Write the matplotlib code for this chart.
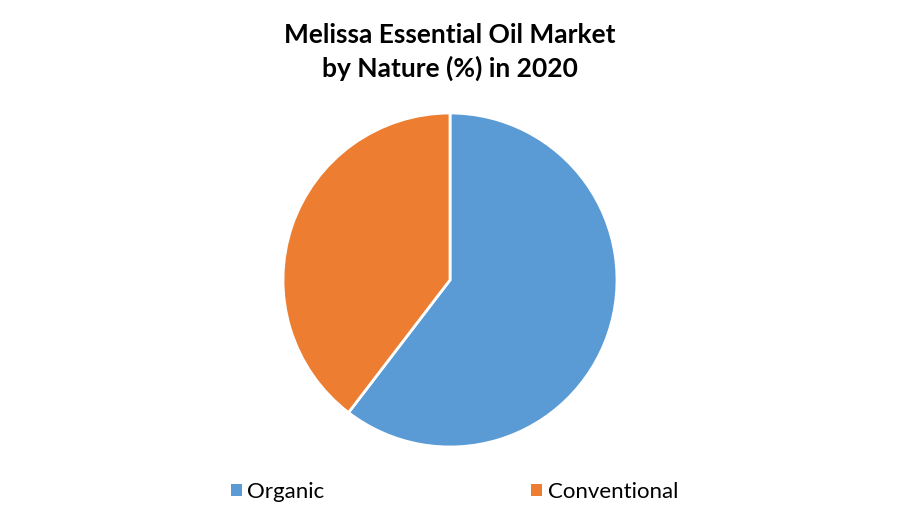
import matplotlib.pyplot as plt
from matplotlib.patches import Patch

plt.rcParams['font.family'] = ['Lato', 'DejaVu Sans']

# data
labels = ['Organic', 'Conventional']
shares = [60.4, 39.6]
colors = ['#5B9BD5', '#ED7D31']

fig = plt.figure(figsize=(9, 5.25), dpi=100)

# pie axes, centred around (450, 280) px with radius ~166 px
w = 334 / 900
h = 334 / 525
cx = 450 / 900
cy = (525 - 280) / 525
ax = fig.add_axes([cx - w / 2, cy - h / 2, w, h])
ax.pie(shares, colors=colors, startangle=90, counterclock=False,
       radius=1, wedgeprops=dict(edgecolor='white', linewidth=2))
ax.set_xlim(-1.0, 1.0)
ax.set_ylim(-1.0, 1.0)
ax.set_aspect('equal')

# title
fig.text(0.5, 1 - 52 / 525, 'Melissa Essential Oil Market\nby Nature (%) in 2020',
         ha='center', va='center', fontsize=19, fontweight='bold',
         linespacing=1.45)

# legend
handles = [Patch(facecolor=c, edgecolor='none') for c in colors]
fig.legend(handles, labels, loc='center', bbox_to_anchor=(0.505, 1 - 492 / 525),
           ncol=2, frameon=False, fontsize=16, handlelength=0.5,
           handleheight=0.5, handletextpad=0.25, columnspacing=9.3)

fig.savefig('out.png', dpi=100)
